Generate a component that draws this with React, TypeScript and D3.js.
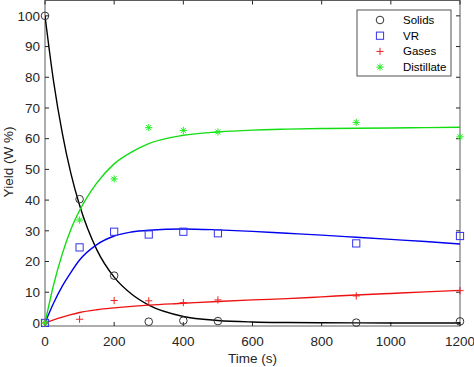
import React from 'react';
import * as d3 from 'd3';

// measured points
const times = [0, 100, 200, 300, 400, 500, 900, 1200];
const solids = [100, 40.3, 15.4, 0.4, 0.75, 0.6, 0.1, 0.5];
const vr = [0, 24.6, 29.7, 28.8, 29.7, 29.2, 25.9, 28.3];
const gases = [0, 1.2, 7.3, 7.2, 6.6, 7.5, 8.8, 10.5];
const distillate = [0, 33.5, 46.9, 63.6, 62.7, 62.2, 65.3, 60.6];

// model curves
const fitTimes = [0, 25, 50, 75, 100, 150, 200, 250, 300, 400, 500, 600, 700, 800, 900, 1000, 1100, 1200];
const solidsFit = [100, 78.5, 61.8, 48.6, 38.3, 23.8, 14.9, 9.4, 5.8, 2.1, 0.8, 0.3, 0.12, 0.05, 0.02, 0, 0, 0];
const vrFit = [0, 6.5, 12, 16.5, 20.5, 25.5, 28.3, 29.6, 30.2, 30.6, 30.3, 29.8, 29.2, 28.6, 27.9, 27.2, 26.5, 25.7];
const gasesFit = [0, 1.0, 1.9, 2.7, 3.4, 4.3, 4.9, 5.4, 5.8, 6.4, 7.0, 7.5, 7.9, 8.5, 9.1, 9.6, 10.1, 10.6];
const distillateFit = [0, 12.5, 22.5, 30.5, 36.6, 45.6, 51.8, 55.6, 58.4, 61.1, 62.2, 62.8, 63.1, 63.3, 63.4, 63.5, 63.6, 63.7];

const xTicks = [0, 200, 400, 600, 800, 1000, 1200];
const yTicks = [0, 10, 20, 30, 40, 50, 60, 70, 80, 90, 100];

const seriesNames = ['Solids', 'VR', 'Gases', 'Distillate'];
const lineColors = ['#000000', '#0000ee', '#ee1111', '#11dd11'];
const markerColors = ['#333333', '#3333ee', '#ee2222', '#22ee22'];

const width = 474;
const height = 367;
const left = 45;
const right = 460;
const top = 0.5;
const bottom = 326;
const axisColor = '#262626';
const font = '"Liberation Sans", Arial, Helvetica, sans-serif';

const Marker = ({ kind, x, y, color }: { kind: number; x: number; y: number; color: string }) => {
  const s = 3.6;
  if (kind === 0) return <circle cx={x} cy={y} r={3.8} fill="none" stroke={color} strokeWidth={1} />;
  if (kind === 1) return <rect x={x - s} y={y - s} width={2 * s} height={2 * s} fill="none" stroke={color} strokeWidth={1} />;
  if (kind === 2)
    return (
      <path d={`M${x - s},${y}H${x + s}M${x},${y - s}V${y + s}`} stroke={color} strokeWidth={1} />
    );
  const d = 0.7 * s;
  return (
    <path
      d={`M${x - s},${y}H${x + s}M${x},${y - s}V${y + s}M${x - d},${y - d}L${x + d},${y + d}M${x - d},${y + d}L${x + d},${y - d}`}
      stroke={color}
      strokeWidth={1}
    />
  );
};

export default function App() {
  const x = d3.scaleLinear().domain([0, 1200]).range([left, right]);
  const y = d3.scaleLinear().domain([-1, 105]).range([bottom, top]);

  const line = d3
    .line<[number, number]>()
    .x(d => x(d[0]))
    .y(d => y(d[1]))
    .curve(d3.curveMonotoneX);

  const fits = [solidsFit, vrFit, gasesFit, distillateFit];
  const points = [solids, vr, gases, distillate];

  const legendX = 357;
  const legendY = 10;

  return (
    <div style={{ position: 'absolute', left: 0, top: 0 }}>
      <svg width={width} height={height} style={{ display: 'block', background: '#fff' }}>
        <defs>
          <clipPath id="plot">
            <rect x={left} y={top} width={right - left} height={bottom - top} />
          </clipPath>
        </defs>

        {/* axes box */}
        <rect x={left} y={top} width={right - left} height={bottom - top} fill="none" stroke={axisColor} strokeOpacity={0.75} strokeWidth={1} />

        {xTicks.map(t => (
          <g key={'x' + t}>
            <line x1={x(t)} x2={x(t)} y1={bottom} y2={bottom - 4} stroke={axisColor} />
            <line x1={x(t)} x2={x(t)} y1={top} y2={top + 4} stroke={axisColor} />
            <text x={x(t)} y={346} textAnchor="middle" fontSize={13.5} fontFamily={font} fill={axisColor}>
              {t}
            </text>
          </g>
        ))}
        {yTicks.map(t => (
          <g key={'y' + t}>
            <line x1={left} x2={left + 4} y1={y(t)} y2={y(t)} stroke={axisColor} />
            <line x1={right} x2={right - 4} y1={y(t)} y2={y(t)} stroke={axisColor} />
            <text x={40} y={y(t) + 4.8} textAnchor="end" fontSize={13.5} fontFamily={font} fill={axisColor}>
              {t}
            </text>
          </g>
        ))}

        <text x={(left + right) / 2} y={363} textAnchor="middle" fontSize={13.5} fontFamily={font} fill={axisColor}>
          Time (s)
        </text>
        <text
          transform={`translate(13,162) rotate(-90)`}
          textAnchor="middle"
          fontSize={13.5}
          fontFamily={font}
          fill={axisColor}
        >
          Yield (W %)
        </text>

        {/* fitted curves */}
        <g clipPath="url(#plot)">
          {fits.map((f, i) => (
            <path
              key={'f' + i}
              d={line(fitTimes.map((t, j) => [t, f[j]] as [number, number])) || ''}
              fill="none"
              stroke={lineColors[i]}
              strokeWidth={1.4}
            />
          ))}
        </g>

        {/* measured points */}
        {points.map((p, i) => (
          <g key={'p' + i}>
            {times.map((t, j) => (
              <Marker key={j} kind={i} x={x(t)} y={y(p[j])} color={markerColors[i]} />
            ))}
          </g>
        ))}

        {/* legend */}
        <rect x={legendX} y={legendY} width={94} height={66} fill="#fff" stroke={axisColor} strokeOpacity={0.8} />
        {seriesNames.map((n, i) => (
          <g key={n}>
            <Marker kind={i} x={legendX + 23} y={legendY + 10 + i * 15.7} color={markerColors[i]} />
            <text x={legendX + 46} y={legendY + 14 + i * 15.7} fontSize={11.5} fontFamily={font} fill="#000">
              {n}
            </text>
          </g>
        ))}
      </svg>
    </div>
  );
}
